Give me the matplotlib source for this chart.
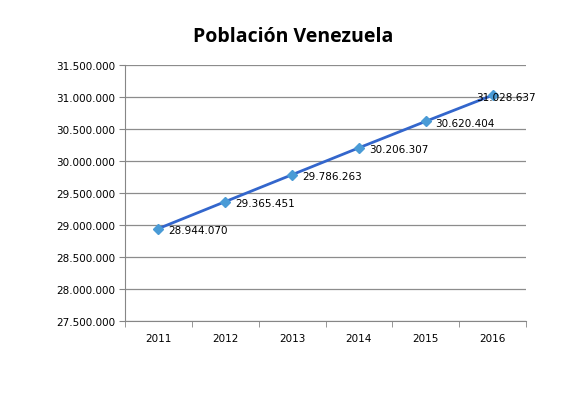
import matplotlib.pyplot as plt
from matplotlib.ticker import FuncFormatter

# datos
anios = ['2011', '2012', '2013', '2014', '2015', '2016']
poblacion = [28944070, 29365451, 29786263, 30206307, 30620404, 31028637]


def miles(v, pos=None):
    return f'{int(v):,}'.replace(',', '.')


fig = plt.figure(figsize=(5.88, 4.06), dpi=100)
ax = fig.add_axes([0.2126, 0.2069, 0.682, 0.6305])

x = list(range(len(anios)))
ax.plot(x, poblacion, color='#3366CC', linewidth=2, zorder=3)
ax.plot(x, poblacion, linestyle='none', marker='D', markersize=5.5,
        color='#4A9BD6', zorder=4)

# etiquetas; la ultima se corre a la izquierda como en Excel
for xi, yi in zip(x, poblacion):
    dx = 7 if xi < len(anios) - 1 else -12
    ax.annotate(miles(yi), (xi, yi), xytext=(dx, -1), textcoords='offset points',
                fontsize=7.5, va='center', ha='left', color='black', zorder=5)

ax.set_ylim(27500000, 31500000)
ax.set_yticks(range(27500000, 31500001, 500000))
ax.yaxis.set_major_formatter(FuncFormatter(miles))
ax.set_xlim(-0.5, len(anios) - 0.5)
ax.set_xticks(x)
ax.set_xticklabels(anios)
ax.set_xticks([i - 0.5 for i in range(len(anios) + 1)], minor=True)
ax.tick_params(axis='x', which='major', length=0, pad=9, labelsize=7.5)
ax.tick_params(axis='x', which='minor', length=4, color='#868686')
ax.tick_params(axis='y', length=4, color='#868686', labelsize=7.5, pad=3)

ax.grid(axis='y', color='#8C8C8C', linewidth=0.9)
ax.set_axisbelow(True)
for side in ['top', 'right']:
    ax.spines[side].set_visible(False)
for side in ['left', 'bottom']:
    ax.spines[side].set_color('#868686')

fig.text(0.498, 0.908, 'Población Venezuela', ha='center', va='center',
         fontsize=14, fontweight='bold', family='Open Sans')

fig.savefig('out.png', dpi=100)
